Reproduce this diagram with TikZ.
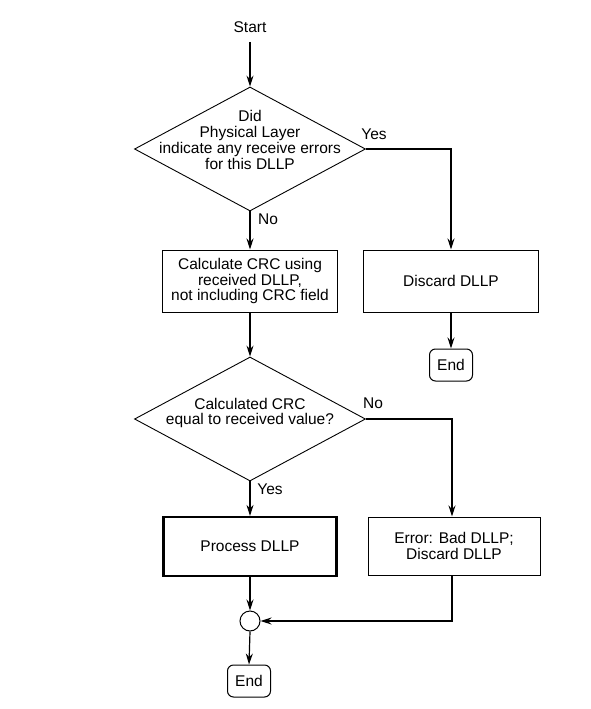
\documentclass[tikz,border=0pt]{standalone}
\usepackage{fontspec}
\setmainfont{Liberation Sans}
\usetikzlibrary{shapes.geometric,arrows.meta}
\begin{document}
\begin{tikzpicture}[x=1pt,y=-1pt,
  every node/.style={font=\fontsize{15.5}{15.8}\selectfont, align=center, inner sep=0pt},
  conn/.style={line width=1.2pt, -{Stealth[length=11pt,width=7pt]}},
  plain/.style={line width=1.2pt},
  dia/.style={draw, line width=0.9pt, shape=diamond, minimum width=231pt, minimum height=124pt},
  procbox/.style={draw, line width=1pt, minimum width=175pt, minimum height=62pt},
  endbox/.style={draw, line width=1pt, rounded corners=6pt, minimum width=43pt, minimum height=32pt},
  lbl/.style={}]
\useasboundingbox (0,0) rectangle (590,709);
\node (start) at (250,27) {Start};
\node[dia] (d1) at (250,149) {};
\node at (250,140) {Did\\Physical Layer\\indicate any receive errors\\for this DLLP};
\node[procbox] (calc) at (250,281) {Calculate CRC using\\received DLLP,\\not including CRC field};
\node[procbox] (disc) at (451,281) {Discard DLLP};
\node[endbox] (end1) at (451,365) {End};
\node[dia] (d2) at (250,419) {};
\node at (250,413) {Calculated CRC\\equal to received value?};
\node[procbox, line width=2.2pt, minimum width=173pt, minimum height=59pt] (proc) at (250,546.5) {Process DLLP};
\node[procbox, minimum width=172pt, minimum height=58pt] (err) at (454,546) {Error: Bad DLLP;\\Discard DLLP};
\node[draw, circle, line width=1pt, minimum size=20pt] (join) at (250,621) {};
\node[endbox] (end2) at (249,681) {End};
\node[lbl] at (374,134) {Yes};
\node[lbl] at (268,219) {No};
\node[lbl] at (373,403) {No};
\node[lbl] at (270,489) {Yes};
\draw[conn] (start) ++(0,15) -- (d1.north);
\draw[conn] (d1.south) -- (calc.north);
\draw[conn] (d1.east) -| (disc.north);
\draw[conn] (disc.south) -- (end1.north);
\draw[conn] (calc.south) -- (d2.north);
\draw[conn] (d2.south) -- (proc.north);
\draw[conn] (d2.east) -| ([xshift=-2pt]err.north);
\draw[conn] (proc.south) -- (join.north);
\draw[conn] ([xshift=-2pt]err.south) |- (join.east);
\draw[conn] (join.south) -- (end2.north);
\end{tikzpicture}
\end{document}
